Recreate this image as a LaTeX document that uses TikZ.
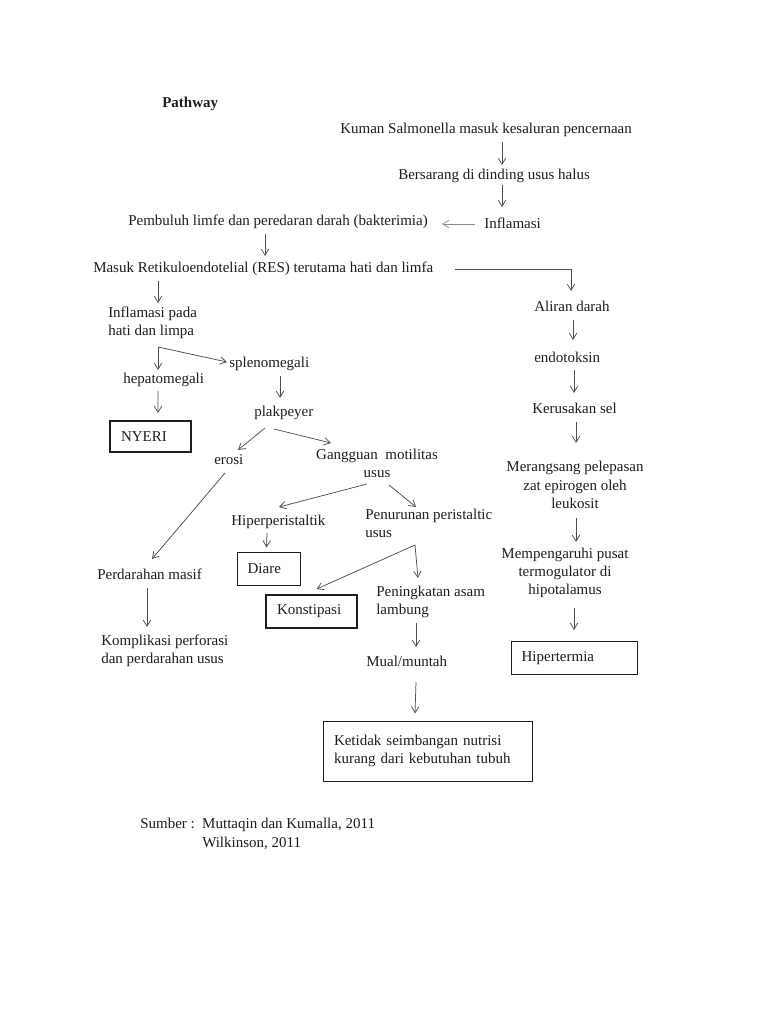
\documentclass[tikz,border=0pt]{standalone}
\usepackage{fontspec}
\setmainfont{Liberation Serif}
\usepackage{tikz}
\usetikzlibrary{arrows.meta, calc}
\definecolor{ink}{RGB}{30,30,30}
\definecolor{wire}{RGB}{80,80,80}

\begin{document}
\begin{tikzpicture}[x=0.8pt,y=-0.8pt,
		lbl/.style={font=\fontsize{12}{14.6}\selectfont, inner sep=0pt, text=ink},
		arr/.style={draw=wire, line width=0.6pt, -{Straight Barb[length=5pt,width=6pt]}},
		boxed/.style={lbl, draw=ink, line width=0.8pt, align=left, inner xsep=8.5pt, inner ysep=0pt},
		heavy/.style={line width=1.5pt}]
			% page
			\useasboundingbox (0,0) rectangle (768,1024);
			\fill[white] (0,0) rectangle (768,1024);
			% title
			\node[lbl, font=\fontsize{12}{14.6}\selectfont\bfseries, anchor=west] (pathway) at (162,104) {Pathway};
			% main trunk
			\node[lbl, anchor=west] (kuman) at (340,130) {Kuman Salmonella masuk kesaluran pencernaan};
			\node[lbl, anchor=west] (bersarang) at (398,176) {Bersarang di dinding usus halus};
			\node[lbl, anchor=west] (inflamasi) at (484,223) {Inflamasi};
			\node[lbl, anchor=west] (pembuluh) at (128,222) {Pembuluh limfe dan peredaran darah (bakterimia)};
			\node[lbl, anchor=west] (res) at (93,269) {Masuk Retikuloendotelial (RES) terutama hati dan limfa};
			% right column
			\node[lbl, anchor=west] (aliran) at (534,306) {Aliran darah};
			\node[lbl, anchor=west] (endotoksin) at (534,357) {endotoksin};
			\node[lbl, anchor=west] (kerusakan) at (532,408) {Kerusakan sel};
			\node[lbl, align=center] (merangsang) at (575,485) {Merangsang pelepasan\\zat epirogen oleh\\leukosit};
			\node[lbl, align=center] (pusat) at (565,573) {Mempengaruhi pusat\\termogulator di\\hipotalamus};
			\node[boxed, text width=83.8pt, minimum height=26.4pt] (hipertermia) at (574,658) {Hipertermia};
			% left branches
			\node[lbl, anchor=west, align=left] (inflhati) at (108,323) {Inflamasi pada\\hati dan limpa};
			\node[lbl, anchor=west] (hepato) at (123,380) {hepatomegali};
			\node[boxed, heavy, text width=47.2pt, minimum height=24.8pt] (nyeri) at (150.5,436.5) {NYERI};
			\node[lbl, anchor=west] (spleno) at (229,364) {splenomegali};
			\node[lbl, anchor=west] (plakpeyer) at (254,413) {plakpeyer};
			\node[lbl, anchor=west] (erosi) at (214,460) {erosi};
			\node[lbl, align=center] (gangguan) at (377,463) {Gangguan\ \ motilitas\\usus};
			\node[lbl, anchor=west] (perdarahan) at (97,574) {Perdarahan masif};
			\node[lbl, anchor=west, align=left] (komplikasi) at (101,651) {Komplikasi perforasi\\dan perdarahan usus};
			\node[lbl, anchor=west] (hiper) at (231,522) {Hiperperistaltik};
			\node[boxed, text width=33.4pt, minimum height=26.4pt] (diare) at (268.5,568.5) {Diare};
			\node[lbl, anchor=west, align=left] (penurunan) at (365,523) {Penurunan peristaltic\\usus};
			\node[boxed, heavy, text width=55.2pt, minimum height=26.4pt] (konstipasi) at (311.5,611.5) {Konstipasi};
			\node[lbl, anchor=west, align=left] (asam) at (376,602) {Peningkatan asam\\lambung};
			\node[lbl, anchor=west] (mual) at (366,661) {Mual/muntah};
			\node[boxed, text width=150.4pt, minimum height=48pt] (nutrisi) at (428,751) {Ketidak seimbangan nutrisi\\kurang dari kebutuhan tubuh};
			% source
			\node[lbl, anchor=west, align=left] (sumber) at (140,834) {\makebox[49.6pt][l]{Sumber :}Muttaqin dan Kumalla, 2011\\\hspace*{49.6pt}Wilkinson, 2011};
			% arrows: trunk
			\draw[arr] ($(kuman.west)+(162,12)$) -- ($(bersarang.west)+(104,-11)$);
			\draw[arr] ($(bersarang.west)+(104,9)$) -- ($(inflamasi.west)+(18,-16)$);
			\draw[arr, draw=black!45] ($(inflamasi.west)+(-9,1)$) -- ($(pembuluh.west)+(314,2)$);
			\draw[arr] ($(pembuluh.west)+(137,12)$) -- ($(res.west)+(172,-13)$);
			\draw[arr] ($(res.west)+(362,0)$) -| ($(aliran.west)+(37,-15)$);
			% arrows: right column
			\draw[arr] ($(aliran.west)+(39,14)$) -- ($(endotoksin.west)+(39,-17)$);
			\draw[arr] ($(endotoksin.west)+(40,13)$) -- ($(kerusakan.west)+(42,-15)$);
			\draw[arr] ($(kerusakan.west)+(44,14)$) -- ($(merangsang)+(1,-42)$);
			\draw[arr] ($(merangsang)+(1,33)$) -- ($(pusat)+(11,-31)$);
			\draw[arr] ($(pusat)+(9,35)$) -- ($(hipertermia.north)+(0,-11)$);
			% arrows: left side
			\draw[arr] ($(res.west)+(65,12)$) -- ($(inflhati.west)+(50,-20)$);
			\draw[arr] ($(inflhati.west)+(50,24)$) -- ($(hepato.west)+(35,-10)$);
			\draw[arr] ($(inflhati.west)+(50,24)$) -- ($(spleno.west)+(-2,-2)$);
			\draw[arr] ($(hepato.west)+(35,11)$) -- ($(nyeri.north)+(7.5,-7)$);
			\draw[arr] ($(spleno.west)+(51,12)$) -- ($(plakpeyer.west)+(26,-15)$);
			\draw[arr] ($(plakpeyer.west)+(11,15)$) -- ($(erosi.west)+(24,-10)$);
			\draw[arr] ($(plakpeyer.west)+(20,16)$) -- ($(gangguan)+(-46,-20)$);
			\draw[arr] ($(erosi.west)+(11,13)$) -- ($(perdarahan.west)+(55,-15)$);
			\draw[arr] ($(perdarahan.west)+(50,14)$) -- ($(komplikasi.west)+(46,-24)$);
			\draw[arr] ($(gangguan)+(-10,21)$) -- ($(hiper.west)+(48,-15)$);
			\draw[arr] ($(gangguan)+(12,22)$) -- ($(penurunan.west)+(51,-16)$);
			\draw[arr] ($(hiper.west)+(36,11)$) -- ($(diare.north)+(-2,-4)$);
			\draw[arr] ($(penurunan.west)+(50,22)$) -- ($(konstipasi.north)+(5,-5)$);
			\draw[arr] ($(penurunan.west)+(50,22)$) -- ($(asam.west)+(42,-24)$);
			\draw[arr] ($(asam.west)+(40,21)$) -- ($(mual.west)+(50,-14)$);
			\draw[arr] ($(mual.west)+(50,21)$) -- ($(nutrisi.north)+(-13,-7)$);
		\end{tikzpicture}
\end{document}
